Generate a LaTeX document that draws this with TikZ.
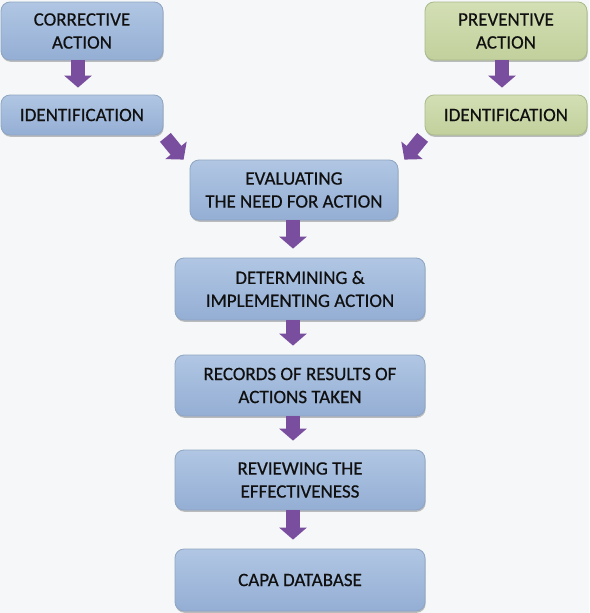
\documentclass[tikz,border=0pt]{standalone}
\usepackage{fontspec}
\setmainfont{Carlito}
\newfontfamily\boxfont{Carlito}[FakeBold=0.5]
\usetikzlibrary{arrows.meta,shadows}
\definecolor{bg}{HTML}{F5F7F8}
\definecolor{bluetop}{HTML}{B0C6E3}
\definecolor{bluebot}{HTML}{94AED4}
\definecolor{blueline}{HTML}{8EA5C3}
\definecolor{greentop}{HTML}{D3DFB4}
\definecolor{greenbot}{HTML}{C1D09C}
\definecolor{greenline}{HTML}{A9B98A}
\definecolor{arrowpurple}{HTML}{7A4E9E}
\definecolor{txt}{HTML}{101010}
\tikzset{
  box/.style={rectangle, rounded corners=9pt, draw=blueline, line width=0.8pt,
    top color=bluetop, bottom color=bluebot, text=txt, align=center,
    font=\boxfont\fontsize{19pt}{23pt}\selectfont, inner sep=0pt,
    drop shadow={shadow xshift=0.6pt, shadow yshift=-1.8pt, opacity=0.45, fill=black!55}},
  gbox/.style={box, draw=greenline, top color=greentop, bottom color=greenbot},
  bigarrow/.style={draw=arrowpurple, line width=14pt,
    -{Triangle[width=27pt,length=12pt]}, arrowpurple}
}
\begin{document}
\begin{tikzpicture}[x=1pt,y=-1pt]
\fill[bg] (0,0) rectangle (589,613);
\useasboundingbox (0,0) rectangle (589,613);
\node[box, minimum width=162pt, minimum height=58pt] (ca) at (82,31) {CORRECTIVE\\ACTION};
\node[box, minimum width=162pt, minimum height=40pt] (idl) at (82,115) {IDENTIFICATION};
\node[gbox, minimum width=162pt, minimum height=58pt] (pa) at (506,31) {PREVENTIVE\\ACTION};
\node[gbox, minimum width=162pt, minimum height=40pt] (idr) at (506,115) {IDENTIFICATION};
\node[box, minimum width=208pt, minimum height=60pt] (ev) at (294,190) {EVALUATING\\THE NEED FOR ACTION};
\node[box, minimum width=250pt, minimum height=62pt] (det) at (300,289) {DETERMINING \&\\IMPLEMENTING ACTION};
\node[box, minimum width=250pt, minimum height=61pt] (rec) at (300,385.5) {RECORDS OF RESULTS OF\\ACTIONS TAKEN};
\node[box, minimum width=250pt, minimum height=60pt] (rev) at (300,480) {REVIEWING THE\\EFFECTIVENESS};
\node[box, minimum width=250pt, minimum height=62pt] (capa) at (300,580) {CAPA DATABASE};
\draw[bigarrow] ([xshift=-4pt]ca.south) -- ([xshift=-4pt,yshift=7pt]idl.north);
\draw[bigarrow] ([xshift=-4pt]pa.south) -- ([xshift=-4pt,yshift=7pt]idr.north);
\draw[bigarrow] ([xshift=2pt,yshift=-2pt]idl.south east) -- ([xshift=-6pt,yshift=0pt]ev.north west);
\draw[bigarrow] ([xshift=-2pt,yshift=-2pt]idr.south west) -- ([xshift=6pt,yshift=0pt]ev.north east);
\draw[bigarrow] ([xshift=-1pt]ev.south) -- ([xshift=-7pt,yshift=9pt]det.north);
\draw[bigarrow] ([xshift=-7pt]det.south) -- ([xshift=-7pt,yshift=9pt]rec.north);
\draw[bigarrow] ([xshift=-7pt]rec.south) -- ([xshift=-7pt,yshift=9pt]rev.north);
\draw[bigarrow] ([xshift=-7pt]rev.south) -- ([xshift=-7pt,yshift=9pt]capa.north);
\end{tikzpicture}
\end{document}
